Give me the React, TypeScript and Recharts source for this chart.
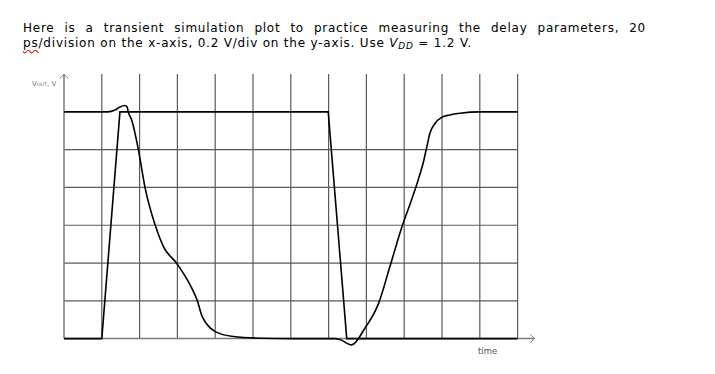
import { LineChart, Line, XAxis, YAxis, ReferenceLine } from "recharts";

// 20 ps per division on x, 0.2 V per division on y
const timeDivs = [1, 2, 3, 4, 5, 6, 7, 8, 9, 10, 11, 12];
const voltLevels = [0.2, 0.4, 0.6, 0.8, 1.0];
const gridTop = 1.4;
const axisEnd = 12.45;

// input pulse
const vinTime = [0, 1.0, 1.48, 6.99, 7.48, 12];
const vinVolts = [0, 0, 1.2, 1.2, 0, 0];

// output
const voutTime = [
  0, 1.0, 1.16, 1.35, 1.48, 1.61, 1.67, 1.7, 1.79, 1.97, 2.14, 2.41, 2.63, 2.98, 3.38, 3.53, 3.64, 3.76, 4.0,
  4.48, 5.19, 6.0, 7.0, 7.17, 7.3, 7.61, 7.96, 8.32, 8.62, 8.93, 9.2, 9.37, 9.5, 9.6, 9.68, 9.82, 9.99, 10.21,
  10.48, 11.0, 12,
];
const voutVolts = [
  1.2, 1.2, 1.2, 1.21, 1.226, 1.234, 1.226, 1.2, 1.157, 0.998, 0.803, 0.602, 0.487, 0.399, 0.267, 0.199, 0.125,
  0.081, 0.037, 0.011, 0.002, 0, 0, 0, -0.005, -0.033, 0.055, 0.185, 0.38, 0.585, 0.738, 0.84, 0.928, 1.016,
  1.087, 1.14, 1.171, 1.184, 1.193, 1.2, 1.2,
];

const vin = vinTime.map((t, i) => ({ t, v: vinVolts[i] }));
const vout = voutTime.map((t, i) => ({ t, v: voutVolts[i] }));

const GRID = "#5a5a5a";
const AXIS = "#7a7a7a";

function Arrow(props: any) {
  const { x1, y1, x2, y2, stroke, strokeWidth } = props;
  const a = Math.atan2(y2 - y1, x2 - x1);
  const len = 6;
  const spread = 0.75;
  const ax = x2 - len * Math.cos(a - spread);
  const ay = y2 - len * Math.sin(a - spread);
  const bx = x2 - len * Math.cos(a + spread);
  const by = y2 - len * Math.sin(a + spread);
  return (
    <g>
      <line x1={x1} y1={y1} x2={x2} y2={y2} stroke={stroke} strokeWidth={strokeWidth} />
      <polyline points={`${ax},${ay} ${x2},${y2} ${bx},${by}`} fill="none" stroke={stroke} strokeWidth={1} />
    </g>
  );
}

export default function App() {
  return (
    <div
      style={{
        position: "absolute",
        left: 0,
        top: 0,
        width: 715,
        height: 374,
        background: "#fff",
        fontFamily: "'DejaVu Sans', Verdana, sans-serif",
        color: "#000",
      }}
    >
      <div
        style={{
          position: "absolute",
          left: 23,
          top: 20.5,
          width: 623,
          fontSize: 12,
          lineHeight: "14px",
          letterSpacing: 0.75,
          textAlign: "justify",
          textAlignLast: "justify",
          whiteSpace: "nowrap",
        }}
      >
        Here is a transient simulation plot to practice measuring the delay parameters, 20
      </div>
      <div
        style={{
          position: "absolute",
          left: 23,
          top: 36.2,
          fontSize: 12,
          lineHeight: "14px",
          letterSpacing: 0.8,
          whiteSpace: "nowrap",
        }}
      >
        <span style={{ textDecoration: "underline wavy #d22", textUnderlineOffset: 2 }}>ps</span>/division on the x-axis, 0.2
        V/div on the y-axis. Use <i>V</i>
        <sub style={{ fontSize: 9, fontStyle: "italic", verticalAlign: "-2px" }}>DD</sub> = 1.2 V.
      </div>

      <div style={{ position: "absolute", left: 32, top: 80, fontSize: 7, color: "#707070", whiteSpace: "nowrap" }}>
        V<span style={{ fontSize: 4.8 }}>OUT</span>, V
      </div>
      <div style={{ position: "absolute", left: 478, top: 346, fontSize: 8.5, color: "#555", whiteSpace: "nowrap" }}>
        time
      </div>

      <LineChart width={715} height={374} margin={{ top: 74.1, right: 178.5, bottom: 16.5, left: 64 }}>
        <XAxis type="number" dataKey="t" domain={[0, 12.5]} hide />
        <YAxis type="number" dataKey="v" domain={[-0.1, 1.4]} hide />
        {voltLevels.map((v) => (
          <ReferenceLine
            key={`h${v}`}
            segment={[
              { x: 0, y: v },
              { x: 12, y: v },
            ]}
            stroke={GRID}
            strokeWidth={1.2}
          />
        ))}
        {timeDivs.map((t) => (
          <ReferenceLine
            key={`v${t}`}
            segment={[
              { x: t, y: 0 },
              { x: t, y: gridTop },
            ]}
            stroke={GRID}
            strokeWidth={1.2}
          />
        ))}
        <ReferenceLine
          segment={[
            { x: 0, y: 0 },
            { x: axisEnd, y: 0 },
          ]}
          stroke={AXIS}
          strokeWidth={1.5}
          shape={Arrow}
        />
        <ReferenceLine
          segment={[
            { x: 0, y: 0 },
            { x: 0, y: gridTop },
          ]}
          stroke={AXIS}
          strokeWidth={1.5}
          shape={Arrow}
        />
        <Line data={vin} dataKey="v" type="linear" stroke="#000" strokeWidth={1.6} dot={false} isAnimationActive={false} />
        <Line data={vout} dataKey="v" type="monotone" stroke="#000" strokeWidth={1.6} dot={false} isAnimationActive={false} />
      </LineChart>
    </div>
  );
}
